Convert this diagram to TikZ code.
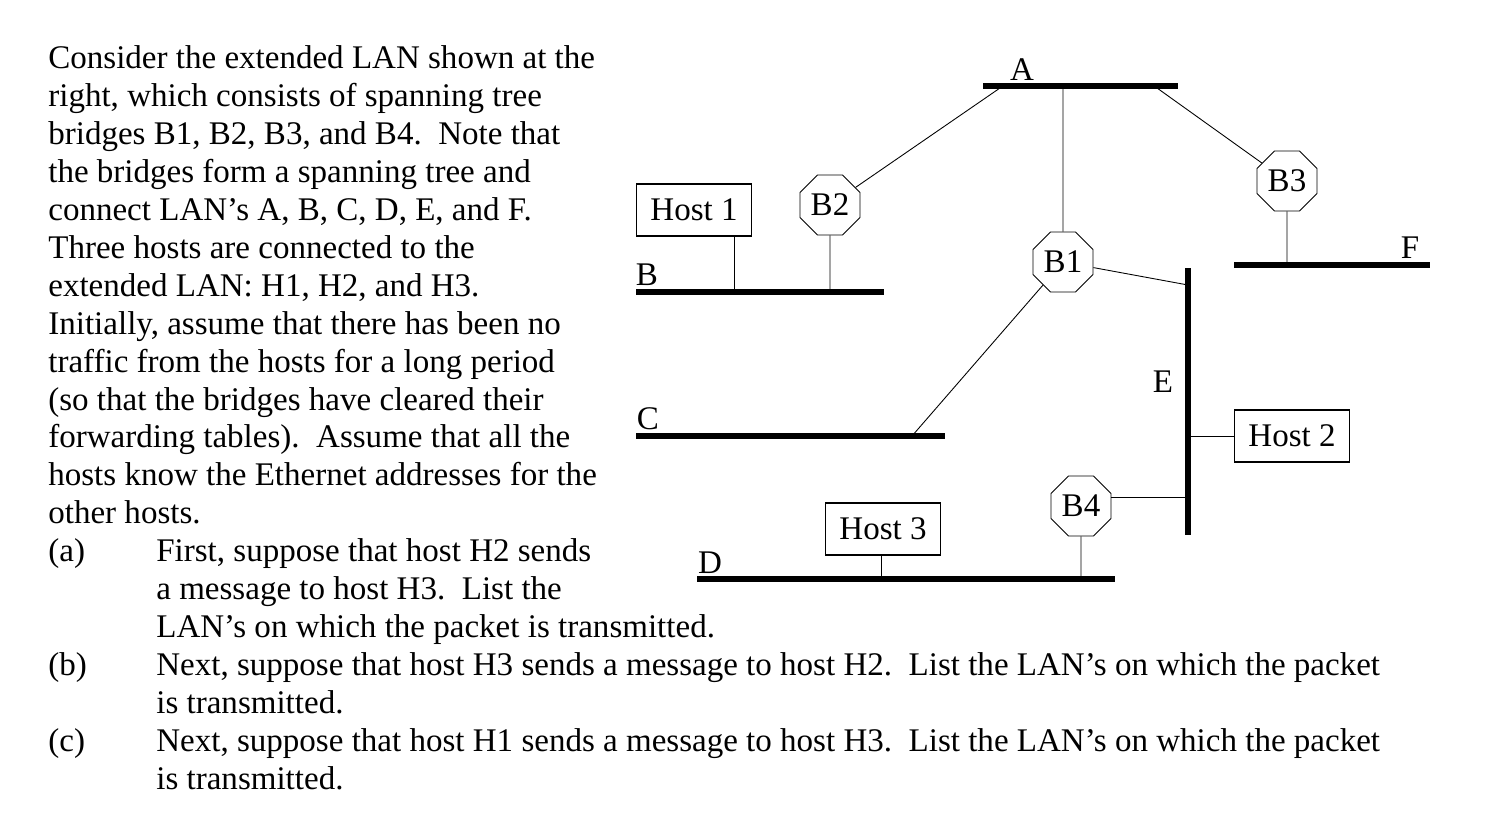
\documentclass[tikz,border=0pt]{standalone}
\usepackage{fontspec}
\setmainfont{Liberation Serif}
\usetikzlibrary{shapes.geometric}
\begin{document}
\begin{tikzpicture}[x=0.02cm,y=-0.02cm,
  lan/.style={line width=3.2pt},
  wire/.style={line width=0.5pt},
  host/.style={draw,line width=0.6pt,minimum width=2.3cm,minimum height=1.04cm,inner sep=0pt},
  bridge/.style={draw,line width=0.5pt,regular polygon,regular polygon sides=8,minimum size=1.3cm,inner sep=0pt},
  txt/.style={anchor=west,inner sep=0pt,text height=1.8ex,text depth=0.5ex},
  every node/.style={font=\fontsize{18.8}{22}\selectfont}]
\useasboundingbox (0,0) rectangle (1508,818);
% text
\node[txt] (t1) at (48,63) {Consider the extended LAN shown at the};
\node[txt] (t2) at (48,101) {right, which consists of spanning tree};
\node[txt] (t3) at (48,139) {bridges B1, B2, B3, and B4.\ \ Note that};
\node[txt] (t4) at (48,177) {the bridges form a spanning tree and};
\node[txt] (t5) at (48,215) {connect LAN’s A, B, C, D, E, and F.};
\node[txt] (t6) at (48,253) {Three hosts are connected to the};
\node[txt] (t7) at (48,291) {extended LAN: H1, H2, and H3.};
\node[txt] (t8) at (48,329) {Initially, assume that there has been no};
\node[txt] (t9) at (48,367) {traffic from the hosts for a long period};
\node[txt] (t10) at (48,405) {(so that the bridges have cleared their};
\node[txt] (t11) at (48,442) {forwarding tables).\ \ Assume that all the};
\node[txt] (t12) at (48,480) {hosts know the Ethernet addresses for the};
\node[txt] (t13) at (48,518) {other hosts.};
\node[txt] (la) at (48,556) {(a)};
\node[txt] (a1) at (156,556) {First, suppose that host H2 sends};
\node[txt] (a2) at (156,594) {a message to host H3.\ \ List the};
\node[txt] (a3) at (156,632) {LAN’s on which the packet is transmitted.};
\node[txt] (lb) at (48,670) {(b)};
\node[txt] (b1) at (156,670) {Next, suppose that host H3 sends a message to host H2.\ \ List the LAN’s on which the packet};
\node[txt] (b2t) at (156,708) {is transmitted.};
\node[txt] (lc) at (48,746) {(c)};
\node[txt] (c1) at (156,746) {Next, suppose that host H1 sends a message to host H3.\ \ List the LAN’s on which the packet};
\node[txt] (c2) at (156,784) {is transmitted.};
% LANs
\coordinate (A1) at (983,86); \coordinate (A2) at (1178,86);
\draw[lan] (A1) -- (A2); \node (lA) at (1022,70) {A};
\coordinate (B1l) at (636,292); \coordinate (B2l) at (884,292);
\draw[lan] (B1l) -- (B2l); \node (lB) at (647,275) {B};
\coordinate (C1) at (636,436); \coordinate (C2) at (945,436);
\draw[lan] (C1) -- (C2); \node (lC) at (648,419) {C};
\coordinate (D1) at (697,579); \coordinate (D2) at (1115,579);
\draw[lan] (D1) -- (D2); \node (lD) at (710,563) {D};
\coordinate (E1) at (1188,268); \coordinate (E2) at (1188,535);
\draw[lan] (E1) -- (E2); \node (lE) at (1163,382) {E};
\coordinate (F1) at (1234,265); \coordinate (F2) at (1430,265);
\draw[lan] (F1) -- (F2); \node (lF) at (1410,248) {F};
% hosts
\node[host] (h1) at (694,210) {Host 1};
\node[host] (h2) at (1292,436) {Host 2};
\node[host] (h3) at (883,529) {Host 3};
% bridges
\node[bridge] (b2) at (830,205) {B2};
\node[bridge] (bb1) at (1063,262) {B1};
\node[bridge] (b3) at (1287,181) {B3};
\node[bridge] (b4) at (1081,506) {B4};
% connectors
\coordinate (p1) at (734,292); \draw[wire] (h1.south -| p1) -- (p1);
\coordinate (p2) at (830,292); \draw[wire] (b2) -- (p2);
\coordinate (p3) at (1000,88); \draw[wire] (b2) -- (p3);
\coordinate (p4) at (1063,86); \draw[wire] (bb1) -- (p4);
\coordinate (p5) at (1188,285); \draw[wire] (bb1) -- (p5);
\coordinate (p6) at (912,436); \draw[wire] (bb1) -- (p6);
\coordinate (p7) at (1157,88); \draw[wire] (b3) -- (p7);
\coordinate (p8) at (1287,265); \draw[wire] (b3) -- (p8);
\coordinate (p9) at (1081,579); \draw[wire] (b4) -- (p9);
\coordinate (p10) at (1188,497); \draw[wire] (b4.east |- p10) -- (p10);
\coordinate (p11) at (1188,436); \draw[wire] (h2) -- (p11);
\coordinate (p12) at (881,579); \draw[wire] (h3.south -| p12) -- (p12);
\end{tikzpicture}
\end{document}
